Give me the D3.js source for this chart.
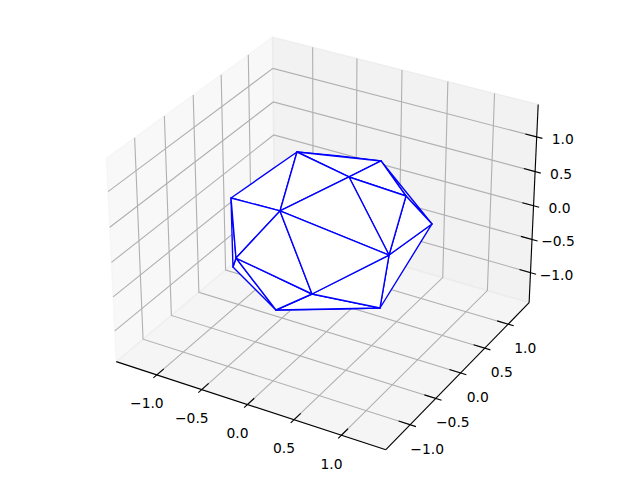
<!DOCTYPE html>
<html><head><meta charset="utf-8"><style>html,body{margin:0;background:#fff}svg{display:block}text{font-family:"DejaVu Sans";font-size:13.89px;fill:#000}</style>
<script src="https://cdn.jsdelivr.net/npm/d3@7"></script></head><body><svg id="c" width="640" height="480"></svg>
<script>
const tickValues=[-1,-0.5,0,0.5,1];
const tickLabels=["\u22121.0","\u22120.5","0.0","0.5","1.0"];
const limX=[-1.46,1.46],limY=[-1.46,1.46],limZ=[-1.46,1.46];
const vertexX=[-0.434,0.275,0.280,0.717,0.841,0.880,0.614,0.379,-0.233,-0.455,-0.514,-0.849,-0.102,-0.402,0.139];
const vertexY=[0.194,0.555,-0.068,0.238,0.538,-0.379,-0.052,-0.921,-0.552,-0.888,-0.851,-0.332,-0.676,0.940,-0.213];
const vertexZ=[0.890,0.792,0.958,0.655,0.104,0.288,-0.813,-0.091,-0.835,0.067,-0.110,0.411,0.730,0.380,-0.913];
const faces=[[0,11,12],[0,12,2],[0,2,1],[1,2,3],[2,3,5],[2,12,5],[12,5,7],[12,7,9],[12,9,11],[11,9,10],[9,10,8],[9,8,7],[8,7,6],[7,5,6],[5,6,4],[5,3,4],[1,3,4],[0,1,13],[8,6,14]];
const k=1.8294640721620434*25/24/Math.hypot(4,4,3),box=[4*k,4*k,3*k],dist=10;
const el=30*Math.PI/180,az=-60*Math.PI/180;
const n=[Math.cos(el)*Math.cos(az),Math.cos(el)*Math.sin(az),Math.sin(el)],r=[-Math.sin(az),Math.cos(az),0],u=[-Math.sin(el)*Math.cos(az),-Math.sin(el)*Math.sin(az),Math.cos(el)];
const sx=d3.scaleLinear().domain(limX).range([-box[0]/2,box[0]/2]),sy=d3.scaleLinear().domain(limY).range([-box[1]/2,box[1]/2]),sz=d3.scaleLinear().domain(limZ).range([-box[2]/2,box[2]/2]);
const px=d3.scaleLinear().domain([-0.095,0.09]).range([80,560]),py=d3.scaleLinear().domain([-0.095,0.09]).range([480,0]);
const dot=(a,b)=>a[0]*b[0]+a[1]*b[1]+a[2]*b[2];
const Q=(x,y,z)=>[sx(x),sy(y),sz(z)];
function P(x,y,z){const q=Q(x,y,z),w=dist-dot(q,n);return [px(dot(q,r)/w),py(dot(q,u)/w)];}
const V=i=>[vertexX[i],vertexY[i],vertexZ[i]];
const depth=f=>d3.mean(f,i=>dot(Q(...V(i)),n));
const svg=d3.select("#c"),line=d3.line();
const [x0,x1]=limX,[y0,y1]=limY,[z0,z1]=limZ;
const poly=(pts,c)=>svg.append("path").attr("d",line(pts.map(p=>P(...p)))+"Z").attr("fill",c).attr("stroke",c).attr("stroke-width",1.39);
poly([[x0,y0,z0],[x0,y1,z0],[x0,y1,z1],[x0,y0,z1]],"rgba(242,242,242,0.5)");
poly([[x0,y1,z0],[x1,y1,z0],[x1,y1,z1],[x0,y1,z1]],"rgba(230,230,230,0.5)");
poly([[x0,y0,z0],[x1,y0,z0],[x1,y1,z0],[x0,y1,z0]],"rgba(236,236,236,0.5)");
const L=(pts,c,w)=>svg.append("path").attr("d",line(pts.map(p=>P(...p)))).attr("fill","none").attr("stroke",c).attr("stroke-width",w);
tickValues.forEach(t=>{
 L([[t,y0,z0],[t,y1,z0],[t,y1,z1]],"#b0b0b0",1.11);
 L([[x1,t,z0],[x0,t,z0],[x0,t,z1]],"#b0b0b0",1.11);
 L([[x0,y0,t],[x0,y1,t],[x1,y1,t]],"#b0b0b0",1.11);
});
L([[x0,y0,z0],[x1,y0,z0]],"#000",1.11);L([[x1,y0,z0],[x1,y1,z0]],"#000",1.11);L([[x1,y1,z0],[x1,y1,z1]],"#000",1.11);
const tk=0.06,tick=(a,b)=>L([a,b],"#000",1.11);
const lab=(p,dx,dy,s)=>svg.append("text").attr("x",p[0]+dx).attr("y",p[1]+dy).attr("text-anchor","middle").attr("dominant-baseline","central").text(s);
tickValues.forEach((t,i)=>{
 tick([t,y0-tk,z0],[t,y0+tk*2,z0]);lab(P(t,y0,z0),-10,28.5,tickLabels[i]);
 tick([x1+tk,t,z0],[x1-tk*2,t,z0]);lab(P(x1,t,z0),17,24,tickLabels[i]);
 tick([x1+tk,y1,t],[x1-tk*2,y1,t]);lab(P(x1,y1,t),26,2,tickLabels[i]);
});
faces.slice().sort((a,b)=>d3.ascending(depth(a),depth(b))).forEach(f=>svg.append("path").attr("d",line(f.map(i=>P(...V(i))))+"Z").attr("fill","#fff").attr("stroke","#00f").attr("stroke-width",1.39).attr("stroke-linejoin","round"));
</script></body></html>
